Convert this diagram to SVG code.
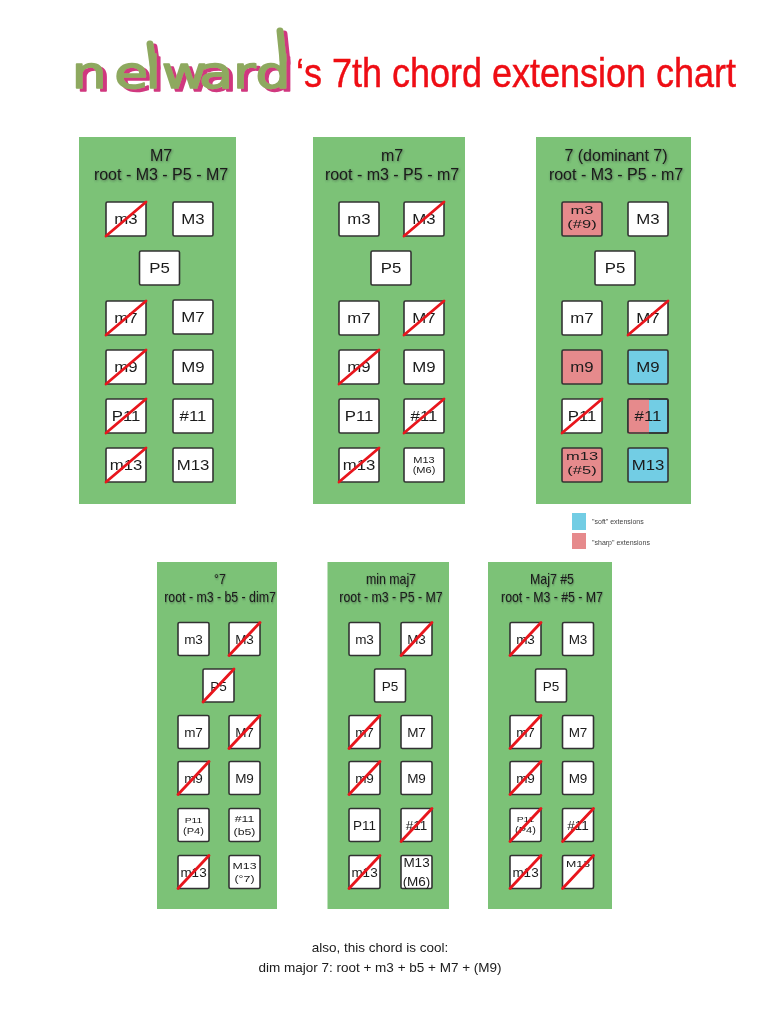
<svg xmlns="http://www.w3.org/2000/svg" width="768" height="1024" viewBox="0 0 768 1024">
<style>
text{font-family:"Liberation Sans",Arial,sans-serif;fill:#1a1a1a}
.panel{fill:#7bc277}
.box{fill:#fff;stroke:#333;stroke-width:1.6}
.s{fill:#e68a8c}.c{fill:#72cde4}
.x{stroke:#e8141c;stroke-width:2.8;stroke-linecap:round}
.l{font-size:14px;text-anchor:middle;transform:scale(1.2,1)}
.lb{font-size:13.500px;text-anchor:middle}
.sm{font-size:9.500px;text-anchor:middle;transform:scale(1.3,1)}
.sw{font-size:11px;text-anchor:middle;transform:scale(1.5,1)}
.h{font-size:16px;text-anchor:middle;filter:url(#sh)}
.hb{font-size:14px;text-anchor:middle;filter:url(#sh);transform:scale(.88,1)}
.t{font-size:36px;fill:#ee0a12;stroke:#ee0a12;stroke-width:.4px}
.f{font-size:13.500px;text-anchor:middle}
.lg{font-size:7px;fill:#444}
.logo{font-family:"DejaVu Sans",sans-serif;font-size:44px;stroke-linejoin:round;stroke-width:1.5px}
.gr{fill:#8ea95f;stroke:#8ea95f}
.st{fill:none;stroke-width:7;stroke-linecap:round}
</style>
<defs>
<filter id="sh" x="-10%" y="-30%" width="120%" height="170%"><feDropShadow dx="0.6" dy="1" stdDeviation="0.8" flood-color="#333" flood-opacity="0.6"/></filter>
<filter id="pk" filterUnits="userSpaceOnUse" x="50" y="20" width="260" height="90"><feDropShadow dx="4" dy="3" stdDeviation="0.3" flood-color="#d0397f"/></filter>
<filter id="soft" x="0" y="0" width="100%" height="100%"><feGaussianBlur stdDeviation="0.4"/></filter>
<rect id="bt" x="-20" y="-17" width="40" height="34" rx="1.5"/>
<rect id="bb" x="-15.500" y="-16.500" width="31" height="33" rx="1.5"/>
<line id="xt" x1="-20" y1="17" x2="20" y2="-17"/>
<line id="xb" x1="-15.500" y1="16.500" x2="15.500" y2="-16.500"/>
</defs>
<g filter="url(#soft)">
<rect width="768" height="1024" fill="#fff"/>
<g id="title">
<g filter="url(#pk)">
<path class="gr st" d="M150 44L153 65M280 31L283 60"/>
<text class="logo gr" transform="translate(68,88) scale(1.25,1)" x="3 37 62 75 105 132 150">nelward</text>
</g>
<text class="t" transform="translate(296,87) scale(1,1.11)">‘s 7th chord extension chart</text>
</g>
<g id="panel-M7">
<rect class="panel" x="79" y="137" width="157" height="367"/>
<text class="h" x="161" y="161">M7</text><text class="h" x="161" y="180">root - M3 - P5 - M7</text>
</g>
<g id="panel-m7">
<rect class="panel" x="313" y="137" width="152" height="367"/>
<text class="h" x="392" y="161">m7</text><text class="h" x="392" y="180">root - m3 - P5 - m7</text>
</g>
<g id="panel-dom7">
<rect class="panel" x="536" y="137" width="155" height="367"/>
<text class="h" x="616" y="161">7 (dominant 7)</text><text class="h" x="616" y="180">root - M3 - P5 - m7</text>
</g>
<g id="panel-dim7">
<rect class="panel" x="157" y="562" width="120" height="347"/>
<g transform="translate(220,0)"><text class="hb" y="584">°7</text><text class="hb" y="602">root - m3 - b5 - dim7</text></g>
</g>
<g id="panel-minmaj7">
<rect class="panel" x="327.500" y="562" width="121.500" height="347"/>
<g transform="translate(391,0)"><text class="hb" y="584">min maj7</text><text class="hb" y="602">root - m3 - P5 - M7</text></g>
</g>
<g id="panel-maj7s5">
<rect class="panel" x="488" y="562" width="124" height="347"/>
<g transform="translate(552,0)"><text class="hb" y="584">Maj7 #5</text><text class="hb" y="602">root - M3 - #5 - M7</text></g>
</g>

<g id="a1" transform="translate(126,219)"><use href="#bt" class="box"/><text class="l" y="5">m3</text><use href="#xt" class="x"/></g>
<g id="a2" transform="translate(193,219)"><use href="#bt" class="box"/><text class="l" y="5">M3</text></g>
<g id="a3" transform="translate(159.500,268)"><use href="#bt" class="box"/><text class="l" y="5">P5</text></g>
<g id="a4" transform="translate(126,318)"><use href="#bt" class="box"/><text class="l" y="5">m7</text><use href="#xt" class="x"/></g>
<g id="a5" transform="translate(193,317)"><use href="#bt" class="box"/><text class="l" y="5">M7</text></g>
<g id="a6" transform="translate(126,367)"><use href="#bt" class="box"/><text class="l" y="5">m9</text><use href="#xt" class="x"/></g>
<g id="a7" transform="translate(193,367)"><use href="#bt" class="box"/><text class="l" y="5">M9</text></g>
<g id="a8" transform="translate(126,416)"><use href="#bt" class="box"/><text class="l" y="5">P11</text><use href="#xt" class="x"/></g>
<g id="a9" transform="translate(193,416)"><use href="#bt" class="box"/><text class="l" y="5">#11</text></g>
<g id="a10" transform="translate(126,465)"><use href="#bt" class="box"/><text class="l" y="5">m13</text><use href="#xt" class="x"/></g>
<g id="a11" transform="translate(193,465)"><use href="#bt" class="box"/><text class="l" y="5">M13</text></g>

<g id="b1" transform="translate(359,219)"><use href="#bt" class="box"/><text class="l" y="5">m3</text></g>
<g id="b2" transform="translate(424,219)"><use href="#bt" class="box"/><text class="l" y="5">M3</text><use href="#xt" class="x"/></g>
<g id="b3" transform="translate(391,268)"><use href="#bt" class="box"/><text class="l" y="5">P5</text></g>
<g id="b4" transform="translate(359,318)"><use href="#bt" class="box"/><text class="l" y="5">m7</text></g>
<g id="b5" transform="translate(424,318)"><use href="#bt" class="box"/><text class="l" y="5">M7</text><use href="#xt" class="x"/></g>
<g id="b6" transform="translate(359,367)"><use href="#bt" class="box"/><text class="l" y="5">m9</text><use href="#xt" class="x"/></g>
<g id="b7" transform="translate(424,367)"><use href="#bt" class="box"/><text class="l" y="5">M9</text></g>
<g id="b8" transform="translate(359,416)"><use href="#bt" class="box"/><text class="l" y="5">P11</text></g>
<g id="b9" transform="translate(424,416)"><use href="#bt" class="box"/><text class="l" y="5">#11</text><use href="#xt" class="x"/></g>
<g id="b10" transform="translate(359,465)"><use href="#bt" class="box"/><text class="l" y="5">m13</text><use href="#xt" class="x"/></g>
<g id="b11" transform="translate(424,465)"><use href="#bt" class="box"/><text class="sm" y="-2" style="font-size:8.500px">M13</text><text class="sm" y="8" style="font-size:8.500px">(M6)</text></g>

<g id="c1" transform="translate(582,219)"><use href="#bt" class="box" style="fill:#e68a8c"/><text class="sw" y="-5">m3</text><text class="sw" y="9">(#9)</text></g>
<g id="c2" transform="translate(648,219)"><use href="#bt" class="box"/><text class="l" y="5">M3</text></g>
<g id="c3" transform="translate(615,268)"><use href="#bt" class="box"/><text class="l" y="5">P5</text></g>
<g id="c4" transform="translate(582,318)"><use href="#bt" class="box"/><text class="l" y="5">m7</text></g>
<g id="c5" transform="translate(648,318)"><use href="#bt" class="box"/><text class="l" y="5">M7</text><use href="#xt" class="x"/></g>
<g id="c6" transform="translate(582,367)"><use href="#bt" class="box" style="fill:#e68a8c"/><text class="l" y="5">m9</text></g>
<g id="c7" transform="translate(648,367)"><use href="#bt" class="box" style="fill:#72cde4"/><text class="l" y="5">M9</text></g>
<g id="c8" transform="translate(582,416)"><use href="#bt" class="box"/><text class="l" y="5">P11</text><use href="#xt" class="x"/></g>
<g id="c9" transform="translate(648,416)"><use href="#bt" class="box" style="fill:#72cde4"/><rect class="s" x="-20" y="-17" width="21" height="35"/><use href="#bt" style="fill:none;stroke:#333;stroke-width:1.6"/><text class="l" y="5">#11</text></g>
<g id="c10" transform="translate(582,465)"><use href="#bt" class="box" style="fill:#e68a8c"/><text class="sw" y="-5">m13</text><text class="sw" y="9">(#5)</text></g>
<g id="c11" transform="translate(648,465)"><use href="#bt" class="box" style="fill:#72cde4"/><text class="l" y="5">M13</text></g>

<g id="d1" transform="translate(193.500,639)"><use href="#bb" class="box"/><text class="lb" y="5">m3</text></g>
<g id="d2" transform="translate(244.500,639)"><use href="#bb" class="box"/><text class="lb" y="5">M3</text><use href="#xb" class="x"/></g>
<g id="d3" transform="translate(218.500,685.500)"><use href="#bb" class="box"/><text class="lb" y="5">P5</text><use href="#xb" class="x"/></g>
<g id="d4" transform="translate(193.500,732)"><use href="#bb" class="box"/><text class="lb" y="5">m7</text></g>
<g id="d5" transform="translate(244.500,732)"><use href="#bb" class="box"/><text class="lb" y="5">M7</text><use href="#xb" class="x"/></g>
<g id="d6" transform="translate(193.500,778)"><use href="#bb" class="box"/><text class="lb" y="5">m9</text><use href="#xb" class="x"/></g>
<g id="d7" transform="translate(244.500,778)"><use href="#bb" class="box"/><text class="lb" y="5">M9</text></g>
<g id="d8" transform="translate(193.500,825)"><use href="#bb" class="box"/><text class="sm" y="-2" style="font-size:8px">P11</text><text class="sm" y="9" style="font-size:8.500px">(P4)</text></g>
<g id="d9" transform="translate(244.500,825)"><use href="#bb" class="box"/><text class="sm" y="-3">#11</text><text class="sm" y="10">(b5)</text></g>
<g id="d10" transform="translate(193.500,872)"><use href="#bb" class="box"/><text class="lb" y="5">m13</text><use href="#xb" class="x"/></g>
<g id="d11" transform="translate(244.500,872)"><use href="#bb" class="box"/><text class="sm" y="-3">M13</text><text class="sm" y="10">(°7)</text></g>

<g id="e1" transform="translate(364.500,639)"><use href="#bb" class="box"/><text class="lb" y="5">m3</text></g>
<g id="e2" transform="translate(416.500,639)"><use href="#bb" class="box"/><text class="lb" y="5">M3</text><use href="#xb" class="x"/></g>
<g id="e3" transform="translate(390,685.500)"><use href="#bb" class="box"/><text class="lb" y="5">P5</text></g>
<g id="e4" transform="translate(364.500,732)"><use href="#bb" class="box"/><text class="lb" y="5">m7</text><use href="#xb" class="x"/></g>
<g id="e5" transform="translate(416.500,732)"><use href="#bb" class="box"/><text class="lb" y="5">M7</text></g>
<g id="e6" transform="translate(364.500,778)"><use href="#bb" class="box"/><text class="lb" y="5">m9</text><use href="#xb" class="x"/></g>
<g id="e7" transform="translate(416.500,778)"><use href="#bb" class="box"/><text class="lb" y="5">M9</text></g>
<g id="e8" transform="translate(364.500,825)"><use href="#bb" class="box"/><text class="lb" y="5">P11</text></g>
<g id="e9" transform="translate(416.500,825)"><use href="#bb" class="box"/><text class="lb" y="5">#11</text><use href="#xb" class="x"/></g>
<g id="e10" transform="translate(364.500,872)"><use href="#bb" class="box"/><text class="lb" y="5">m13</text><use href="#xb" class="x"/></g>
<g id="e11" transform="translate(416.500,872)"><use href="#bb" class="box"/><text class="lb" y="-5">M13</text><text class="lb" y="14">(M6)</text></g>

<g id="f1" transform="translate(525.500,639)"><use href="#bb" class="box"/><text class="lb" y="5">m3</text><use href="#xb" class="x"/></g>
<g id="f2" transform="translate(578,639)"><use href="#bb" class="box"/><text class="lb" y="5">M3</text></g>
<g id="f3" transform="translate(551,685.500)"><use href="#bb" class="box"/><text class="lb" y="5">P5</text></g>
<g id="f4" transform="translate(525.500,732)"><use href="#bb" class="box"/><text class="lb" y="5">m7</text><use href="#xb" class="x"/></g>
<g id="f5" transform="translate(578,732)"><use href="#bb" class="box"/><text class="lb" y="5">M7</text></g>
<g id="f6" transform="translate(525.500,778)"><use href="#bb" class="box"/><text class="lb" y="5">m9</text><use href="#xb" class="x"/></g>
<g id="f7" transform="translate(578,778)"><use href="#bb" class="box"/><text class="lb" y="5">M9</text></g>
<g id="f8" transform="translate(525.500,825)"><use href="#bb" class="box"/><text class="sm" y="-3" style="font-size:8px">P11</text><text class="sm" y="8" style="font-size:8.500px">(P4)</text><use href="#xb" class="x"/></g>
<g id="f9" transform="translate(578,825)"><use href="#bb" class="box"/><text class="lb" y="5">#11</text><use href="#xb" class="x"/></g>
<g id="f10" transform="translate(525.500,872)"><use href="#bb" class="box"/><text class="lb" y="5">m13</text><use href="#xb" class="x"/></g>
<g id="f11" transform="translate(578,872)"><use href="#bb" class="box"/><text class="sm" y="-5">M13</text><use href="#xb" class="x"/></g>

<g id="legend">
<rect class="c" x="572" y="513" width="14" height="17"/><text class="lg" x="592" y="524">"soft" extensions</text>
<rect class="s" x="572" y="533" width="14" height="16"/><text class="lg" x="592" y="545">"sharp" extensions</text>
</g>
<g id="footer">
<text class="f" x="380" y="952">also, this chord is cool:</text>
<text class="f" x="380" y="972">dim major 7: root + m3 + b5 + M7 + (M9)</text>
</g>
<g id="connectors"/>
</g>
</svg>
